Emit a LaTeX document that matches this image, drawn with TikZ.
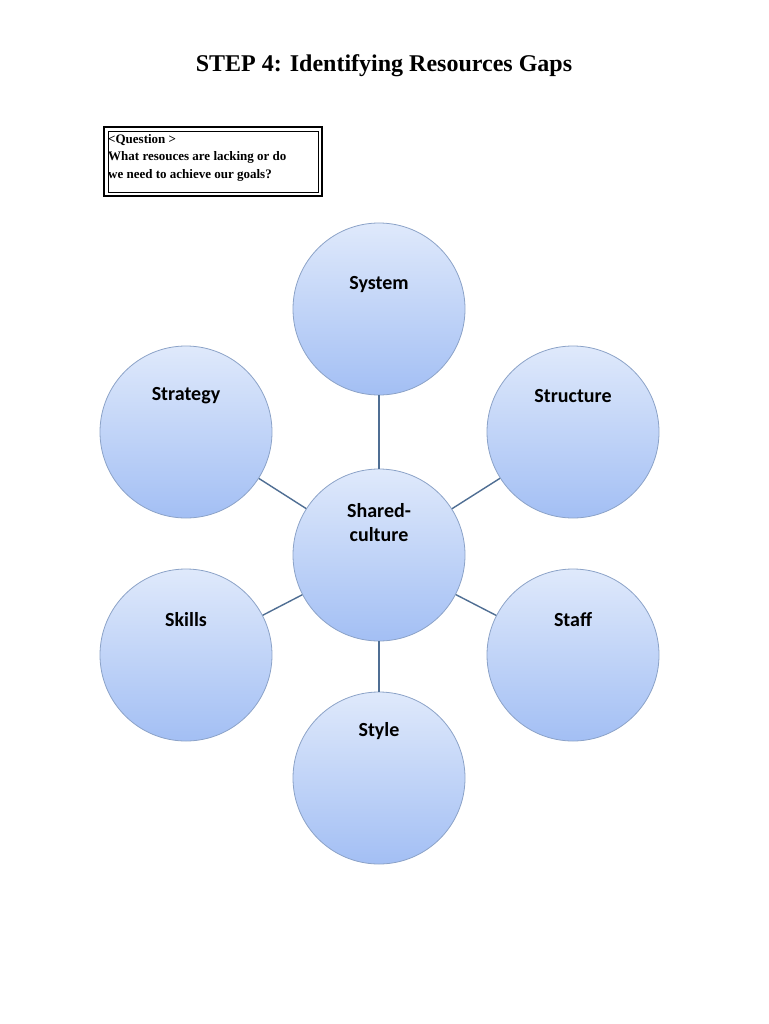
\documentclass[tikz,border=0pt]{standalone}
\usepackage{fontspec}
\setmainfont{Liberation Serif}
\newfontfamily\carl{Carlito}
\begin{document}
\begin{tikzpicture}[x=1pt,y=-1pt,
  ball/.style={circle,minimum size=172pt,inner sep=0pt,draw=circborder,line width=0.8pt,top color=ctop,bottom color=cbot},
  lab/.style={font=\carl\bfseries\fontsize{20}{24}\selectfont,align=center,text=black},
  link/.style={draw=linkc,line width=1.4pt}]
\definecolor{ctop}{HTML}{DFE9FB}
\definecolor{cbot}{HTML}{A3BFF4}
\definecolor{circborder}{HTML}{8CA3C8}
\definecolor{linkc}{HTML}{4F6E93}
\useasboundingbox (0,0) rectangle (768,1024);
\fill[white] (0,0) rectangle (768,1024);
\node[font=\bfseries\fontsize{24}{28}\selectfont] (title) at (384,66) {STEP 4: Identifying Resources Gaps};
\draw[line width=1.6pt] (104,127) rectangle (322,196);
\draw[line width=0.7pt] (108.5,131) rectangle (318.5,192);
\node[anchor=north west,align=left,inner sep=0pt,font=\bfseries\fontsize{13}{17.5}\selectfont] (q) at (108,134)
 {<Question >\\What resouces are lacking or do\\we need to achieve our goals?};
\node[ball] (center) at (379,555) {};
\node[ball] (system) at (379,309) {};
\node[ball] (strategy) at (186,432) {};
\node[ball] (structure) at (573,432) {};
\node[ball] (skills) at (186,655) {};
\node[ball] (staff) at (573,655) {};
\node[ball] (style) at (379,778) {};
\foreach \n in {system,strategy,structure,skills,staff,style}
  \draw[link] (center) -- (\n);
\node[lab] (lsys) at (379,285) {System};
\node[lab] (lstr) at (186,396) {Strategy};
\node[lab] (lstu) at (573,396) {Structure};
\node[lab] (lsha) at (379,523) {Shared-\\culture};
\node[lab] (lski) at (186,620) {Skills};
\node[lab] (lsta) at (573,620) {Staff};
\node[lab] (lsty) at (379,731) {Style};
\end{tikzpicture}
\end{document}
